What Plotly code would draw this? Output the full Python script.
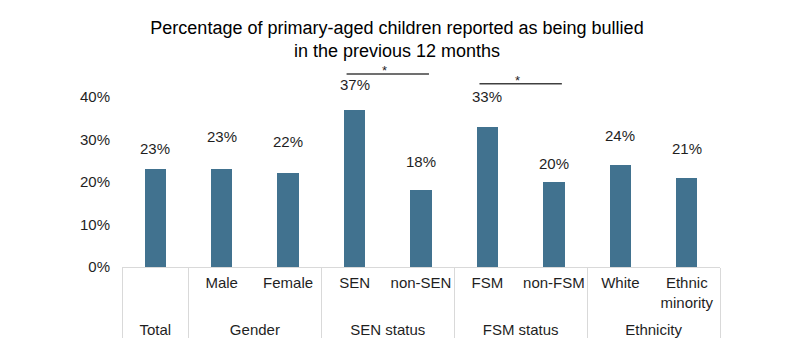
import plotly.graph_objects as go

# ---- data ----
groups = ["Total", "Gender", "Gender", "SEN status", "SEN status",
          "FSM status", "FSM status", "Ethnicity", "Ethnicity"]
subgroups = ["\u00a0", "Male", "Female", "SEN", "non-SEN",
             "FSM", "non-FSM", "White", "Ethnic<br>minority"]
values = [23, 23, 22, 37, 18, 33, 20, 24, 21]
y_ticks = [0, 10, 20, 30, 40]
y_tick_labels = ["0%", "10%", "20%", "30%", "40%"]
sig_pairs = [("SEN", "non-SEN"), ("FSM", "non-FSM")]

title = "Percentage of primary-aged children reported as being bullied<br>in the previous 12 months"

# ---- style ----
FONT = "Liberation Sans, Arial, sans-serif"
BAR = "#41728f"
TXT = "#1f1f1f"
GRID = "#d9d9d9"
sig_heights = [45.4, 43.1]                       # bracket levels (axis units)
label_lift = [21, 33, 32, 25, 29, 30, 18, 29, 29]  # px above bar top (as placed in original)

# invisible tall spacer in the empty inner label pushes the outer row down
inner_labels = [f"<span style='font-size:27px'>{s}</span>" if s == "\u00a0" else s
                for s in subgroups]

idx = list(range(len(values)))
fig = go.Figure()
fig.add_trace(go.Bar(
    x=[groups, inner_labels], y=values,
    marker=dict(color=BAR, line=dict(width=0)),
    width=0.32, hoverinfo="skip", showlegend=False,
))

annotations = []
for i, v, lift in zip(idx, values, label_lift):
    annotations.append(dict(
        x=i, y=v, xref="x2", yref="y", text=f"{v}%", showarrow=False,
        yanchor="middle", yshift=lift, font=dict(family=FONT, size=15, color=TXT)))

for (a, b), h in zip(sig_pairs, sig_heights):
    ia, ib = subgroups.index(a), subgroups.index(b)
    fig.add_trace(go.Scatter(
        x=[ia - 0.12, ib + 0.12], y=[h, h], xaxis="x2", yaxis="y",
        mode="lines", line=dict(color="#404040", width=1.5),
        hoverinfo="skip", showlegend=False, cliponaxis=False))
    annotations.append(dict(
        x=(ia + ib) / 2 - 0.05, y=h, xref="x2", yref="y", text="*", showarrow=False,
        yanchor="middle", yshift=3, font=dict(family=FONT, size=13, color=TXT)))

fig.update_layout(
    width=794, height=359,
    margin=dict(l=114, r=82, t=57, b=100, autoexpand=False),
    paper_bgcolor="white", plot_bgcolor="white",
    font=dict(family=FONT, size=15, color=TXT),
    title=dict(text=title, x=389 / 794, xanchor="center", xref="container",
               y=1 - 26 / 359, yanchor="middle", yref="container",
               font=dict(family=FONT, size=18, color="#000000")),
    xaxis=dict(type="multicategory", showline=True, linecolor=GRID, linewidth=1,
               showgrid=False, ticks="", showdividers=True, dividercolor=GRID,
               dividerwidth=1, tickfont=dict(family=FONT, size=15, color=TXT),
               tickangle=0, automargin=False, ticklabelstandoff=2,
               range=[-0.5, 8.5], zeroline=False),
    xaxis2=dict(overlaying="x", anchor="y", range=[-0.5, 8.5], visible=False,
                showgrid=False, zeroline=False),
    yaxis=dict(range=[0, 47.5], tickvals=y_ticks, ticktext=y_tick_labels,
               showgrid=False, zeroline=False, showline=False, ticks="",
               automargin=False,
               ticklabelstandoff=11, tickfont=dict(family=FONT, size=15, color=TXT)),
    annotations=annotations,
    bargap=0,
)

fig.write_html("out.html")
